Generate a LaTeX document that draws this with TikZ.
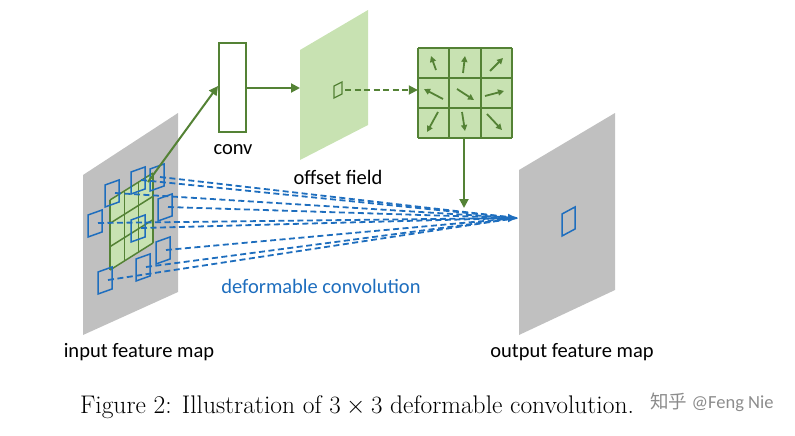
\documentclass[tikz,border=0pt]{standalone}
\usepackage{fontspec}
\setmainfont{Carlito}
\newfontfamily\capfont{Latin Modern Roman}
\newfontfamily\cjk{Noto Sans CJK SC}
\usetikzlibrary{arrows.meta,calc}
\definecolor{gfill}{RGB}{200,226,178}
\definecolor{gline}{RGB}{84,130,53}
\definecolor{bl}{RGB}{30,110,190}
\definecolor{gr}{RGB}{192,192,192}
\begin{document}
\begin{tikzpicture}[x=1pt,y=-1pt,
  lab/.style={font=\fontsize{20.5}{24}\selectfont, text=black},
  garr/.style={gline, line width=2pt, -{Triangle[length=9pt,width=9pt]}},
  sarr/.style={gline, line width=1.8pt, -{Triangle[length=6pt,width=6pt]}},
  bsq/.style={draw=bl, line width=1.5pt},
  dl/.style={bl, line width=1.8pt, dash pattern=on 6pt off 3.5pt}]
\useasboundingbox (0,0) rectangle (795,436);
% input map
\fill[gr] (83,175) -- (178,113) -- (178,292) -- (83,335) -- cycle;
\coordinate (out) at (517,218);
% green grid
\fill[gfill] (110,200) -- (153,173) -- (153,243) -- (110,270) -- cycle;
\foreach \t in {0,1/3,2/3,1}{
  \draw[gline, line width=1.5pt] ($(110,200)!\t!(110,270)$) -- ($(153,173)!\t!(153,243)$);
  \draw[gline, line width=1.5pt] ($(110,200)!\t!(153,173)$) -- ($(110,270)!\t!(153,243)$);
}
% blue squares and dashed lines
\foreach \x/\y [count=\i] in {138/180,157/177,112/193,165/207,95/223,138/228,163/250,143/267,105/280}{
  \draw[bsq] (\x-7,\y-8) -- (\x+7,\y-13) -- (\x+7,\y+9) -- (\x-7,\y+14) -- cycle;
  \coordinate (s\i) at (\x+3,\y);
  \draw[dl] (s\i) -- (out);
}
\draw[bl, -{Triangle[length=9pt,width=8pt]}, line width=1.8pt] (505,218) -- (out);
% output map
\fill[gr] (519,170) -- (615,113) -- (615,290) -- (519,335) -- cycle;
\draw[bsq] (562,214) -- (575,207) -- (575,229) -- (562,236) -- cycle;
% conv
\node[draw=gline, line width=2pt, minimum width=27pt, minimum height=89pt, inner sep=0pt] (conv) at (232.5,87.5) {};
\node[lab] (convl) at (233,150) {conv};
\coordinate (gtop) at (148,182);
\draw[garr] (gtop) -- (conv.west |- 0,86);
% offset field
\fill[gfill] (300,50) -- (368,10) -- (368,125) -- (300,160) -- cycle;
\coordinate (ofl) at (300,88);
\draw[garr] (conv.east |- 0,88) -- (ofl);
\draw[gline, line width=1.3pt] (334,86) -- (342,82) -- (342,94) -- (334,98) -- cycle;
\node[lab] (offl) at (338,177) {offset field};
% grid of offsets
\fill[gfill] (418,48) rectangle (512,138);
\foreach \t in {0,1,2,3}{
  \draw[gline, line width=2pt] (418+\t*31.33,48) -- (418+\t*31.33,138);
  \draw[gline, line width=2pt] (418,48+\t*30) -- (512,48+\t*30);
}
\node[inner sep=0pt, minimum width=94pt, minimum height=90pt] (grid) at (465,93) {};
\draw[gline, line width=1.8pt, dash pattern=on 6pt off 3.5pt, -{Triangle[length=9pt,width=9pt]}] (345,90) -- (grid.west |- 0,90);
\draw[sarr] (436,70) -- (431,56);
\draw[sarr] (463,73) -- (465,56);
\draw[sarr] (490,71) -- (503,58);
\draw[sarr] (443,99) -- (424,89);
\draw[sarr] (457,89) -- (474,100);
\draw[sarr] (485,96) -- (504,91);
\draw[sarr] (438,112) -- (427,132);
\draw[sarr] (462,112) -- (465,131);
\draw[sarr] (487,114) -- (502,130);
\coordinate (down) at (464,208);
\draw[garr] (grid.south -| 464,0) -- (down);
% labels
\node[lab, text=bl] (dc) at (321,286) {deformable convolution};
\node[lab] (inl) at (139,352) {input feature map};
\node[lab] (outl) at (572,352) {output feature map};
\node[font=\capfont\fontsize{25.5}{30}\selectfont] (cap) at (357,407) {Figure 2: Illustration of $3\times3$ deformable convolution.};
\node[font=\fontsize{18.5}{22}\selectfont, text=black!45] (wm) at (712,402) {{\cjk 知乎} @Feng Nie};
\end{tikzpicture}
\end{document}
